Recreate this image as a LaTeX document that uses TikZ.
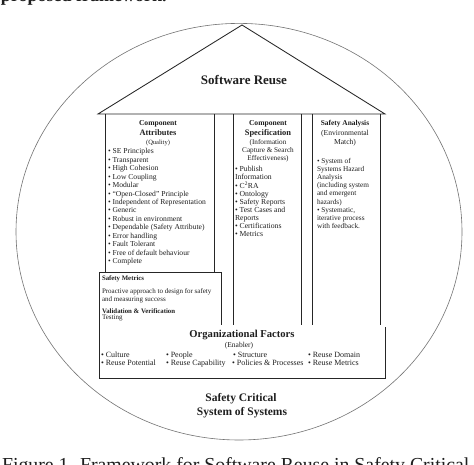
\documentclass[tikz,border=0pt]{standalone}
\usepackage{fontspec}
\setmainfont{Liberation Serif}
\newcommand{\fsz}[2]{\fontsize{#1}{#2}\selectfont}
\begin{document}
\begin{tikzpicture}[x=1pt,y=-1pt,
  txt/.style={inner sep=0pt, outer sep=0pt, text=black!88},
  hd/.style={txt, anchor=base, font=\bfseries\fsz{7.6}{9}},
  sub/.style={txt, anchor=base, font=\fsz{7.6}{9}},
  list/.style={txt, anchor=north west, align=left},
  house/.style={draw=black!85, line width=0.85pt, line join=miter},
  ring/.style={draw=black!55, line width=0.6pt}]
\useasboundingbox (0,0) rectangle (474,465);
\clip (0,0) rectangle (474,465);
\fill[white] (0,0) rectangle (474,465);

% cut-off captions
\node[txt, anchor=base west, font=\bfseries\fsz{18}{20}] (captop) at (1,2) {proposed framework.};
\node[txt, anchor=base west, font=\fsz{19.8}{22}] (capbot) at (2,471) {Figure 1. Framework for Software Reuse in Safety Critical};

% outer ellipse
\draw[ring] (239,231.7) ellipse [x radius=223pt, y radius=208.3pt];

% roof
\coordinate (rl) at (98,114);
\coordinate (ra) at (242,25);
\coordinate (rr) at (385,114);
\draw[house] (rl) -- (ra) -- (rr) -- cycle;

% columns
\draw[house] (105,114) -- (105,272);
\draw[house] (214,114) -- (214,272);
\draw[house] (233,114) -- (233,325);
\draw[house] (301,114) -- (301,325);
\draw[house] (312,114) -- (312,325);
\draw[house] (380,114) -- (380,325);

% safety metrics box and organizational factors base
\draw[house] (99,378) -- (99,272) -- (221,272) -- (221,325);
\draw[house] (99,378) -- (385,378) -- (385,327);

% roof title
\node[txt, anchor=base, font=\bfseries\fsz{13}{15}] (sr) at (244,85) {Software Reuse};

% column 1
\node[hd] (c1a) at (158,126) {Component};
\node[hd, font=\bfseries\fsz{8.4}{10}] (c1b) at (158,136) {Attributes};
\node[sub, font=\fsz{6.5}{8}] (c1c) at (158,144.5) {(Quality)};
\node[list, font=\fsz{7.6}{8.45}] (c1l) at (108,148.5) {%
• SE Principles\\
• Transparent\\
• High Cohesion\\
• Low Coupling\\
• Modular\\
• “Open-Closed” Principle\\
• Independent of Representation\\
• Generic\\
• Robust in environment\\
• Dependable (Safety Attribute)\\
• Error handling\\
• Fault Tolerant\\
• Free of default behaviour\\
• Complete};

% column 2
\node[hd] (c2a) at (268,126) {Component};
\node[hd, font=\bfseries\fsz{8.4}{10}] (c2b) at (268,136) {Specification};
\node[sub, font=\fsz{7.2}{8}] (c2c) at (268,144.5) {(Information};
\node[sub, font=\fsz{7.2}{8}] (c2d) at (268,152.5) {Capture \& Search};
\node[sub, font=\fsz{7.2}{8}] (c2e) at (268,160.5) {Effectiveness)};
\node[list, font=\fsz{7.7}{8.1}] (c2l) at (235,166.5) {%
• Publish\\
Information\\
• C\textsuperscript{2}RA\\
• Ontology\\
• Safety Reports\\
• Test Cases and\\
Reports\\
• Certifications\\
• Metrics};

% column 3
\node[hd, font=\bfseries\fsz{7.4}{9}] (c3a) at (345,126) {Safety Analysis};
\node[sub] (c3b) at (345,136) {(Environmental};
\node[sub] (c3c) at (345,144.5) {Match)};
\node[list, font=\fsz{7.3}{8.1}] (c3l) at (317,158.4) {%
• System of\\
Systems Hazard\\
Analysis\\
(including system\\
and emergent\\
hazards)\\
• Systematic,\\
iterative process\\
with feedback.};

% safety metrics
\node[txt, anchor=base west, font=\bfseries\fsz{6.8}{8}] (sm) at (102,280) {Safety Metrics};
\node[txt, anchor=base west, font=\fsz{7}{7.3}] (smt) at (102,294) {Proactive approach to design for safety};
\node[txt, anchor=base west, font=\fsz{7}{7.3}] (smt2) at (102,301.3) {and measuring success};
\node[txt, anchor=base west, font=\bfseries\fsz{6.8}{8}] (vv) at (102,313) {Validation \& Verification};
\node[txt, anchor=base west, font=\fsz{7}{8}] (vvt) at (102,319.5) {Testing};

% organizational factors
\node[txt, anchor=base, font=\bfseries\fsz{10.6}{12}] (of) at (242,337.5) {Organizational Factors};
\node[txt, anchor=base, font=\fsz{7.5}{9}] (en) at (239,347) {(Enabler)};
\tikzset{ob/.style={txt, anchor=base west, font=\fsz{8}{9}}}
\node[ob] (o1) at (101,357) {• Culture};
\node[ob] (o2) at (166,357) {• People};
\node[ob] (o3) at (233,357) {• Structure};
\node[ob] (o4) at (308,357) {• Reuse Domain};
\node[ob] (o5) at (101,365.3) {• Reuse Potential};
\node[ob] (o6) at (166,365.3) {• Reuse Capability};
\node[ob] (o7) at (232,365.3) {• Policies \& Processes};
\node[ob] (o8) at (308,365.3) {• Reuse Metrics};

% outer label
\node[txt, anchor=base, font=\bfseries\fsz{11.5}{14}] (sc1) at (241,401.7) {Safety Critical};
\node[txt, anchor=base, font=\bfseries\fsz{11.5}{14}] (sc2) at (242,415.7) {System of Systems};
\end{tikzpicture}
\end{document}
